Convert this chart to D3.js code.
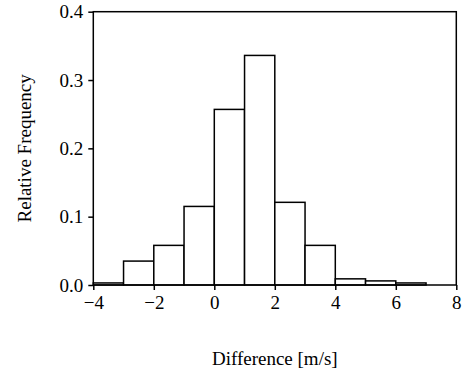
<!DOCTYPE html>
<html>
<head>
<meta charset="utf-8">
<script src="https://cdn.jsdelivr.net/npm/d3@7"></script>
<style>
  html, body { margin: 0; padding: 0; background: #fff; }
  svg { display: block; }
  svg text { font-family: "Liberation Serif", "Times New Roman", serif !important; fill: #000; }
</style>
</head>
<body>
<div id="chart"></div>
<script>
// Histogram bins (left edges), width 1 m/s
const binStarts = [-4, -3, -2, -1, 0, 1, 2, 3, 4, 5, 6];
const frequencies = [0.003, 0.035, 0.058, 0.115, 0.257, 0.336, 0.121, 0.058, 0.009, 0.006, 0.003];
const binWidth = 1;
const xTicks = [-4, -2, 0, 2, 4, 6, 8];
const yTicks = [0.0, 0.1, 0.2, 0.3, 0.4];
const xLabel = "Difference [m/s]";
const yLabel = "Relative Frequency";

const W = 474, H = 379;
const margin = { left: 93.3, right: 474 - 456.3, top: 11.7, bottom: 379 - 285 };

const svg = d3.select("#chart").append("svg").attr("width", W).attr("height", H);

const x = d3.scaleLinear().domain([-4, 8]).range([margin.left, W - margin.right]);
const y = d3.scaleLinear().domain([0, 0.4]).range([H - margin.bottom, margin.top]);

const minus = d => (d < 0 ? "\u2212" + Math.abs(d) : String(d));

// bars
svg.append("g").selectAll("rect").data(binStarts).join("rect")
  .attr("x", (d) => x(d))
  .attr("y", (d, i) => y(frequencies[i]))
  .attr("width", d => x(d + binWidth) - x(d))
  .attr("height", (d, i) => y(0) - y(frequencies[i]))
  .attr("fill", "#fff")
  .attr("stroke", "#000")
  .attr("stroke-width", 1.5);

// axes
const xAxis = d3.axisBottom(x).tickValues(xTicks).tickFormat(minus).tickSize(5).tickSizeOuter(0).tickPadding(6);
const yAxis = d3.axisLeft(y).tickValues(yTicks).tickFormat(d3.format(".1f")).tickSize(5).tickSizeOuter(0).tickPadding(5);

const gx = svg.append("g").attr("transform", `translate(0,${y(0)})`).call(xAxis);
const gy = svg.append("g").attr("transform", `translate(${x(-4)},0)`).call(yAxis);
[gx, gy].forEach(g => {
  g.attr("font-family", "Liberation Serif").attr("font-size", 19);
  g.select(".domain").remove();
  g.selectAll("line").attr("stroke", "#000").attr("stroke-width", 1.5);
  g.selectAll("text").attr("fill", "#000");
});

// frame
svg.append("rect")
  .attr("x", x(-4)).attr("y", y(0.4))
  .attr("width", x(8) - x(-4)).attr("height", y(0) - y(0.4))
  .attr("fill", "none").attr("stroke", "#000").attr("stroke-width", 1.5);

// axis titles
svg.append("text")
  .attr("x", (x(-4) + x(8)) / 2).attr("y", 365)
  .attr("text-anchor", "middle").attr("font-size", 19)
  .text(xLabel);

svg.append("text")
  .attr("transform", `translate(31,${(y(0) + y(0.4)) / 2}) rotate(-90)`)
  .attr("text-anchor", "middle").attr("font-size", 19)
  .text(yLabel);
</script>
</body>
</html>
